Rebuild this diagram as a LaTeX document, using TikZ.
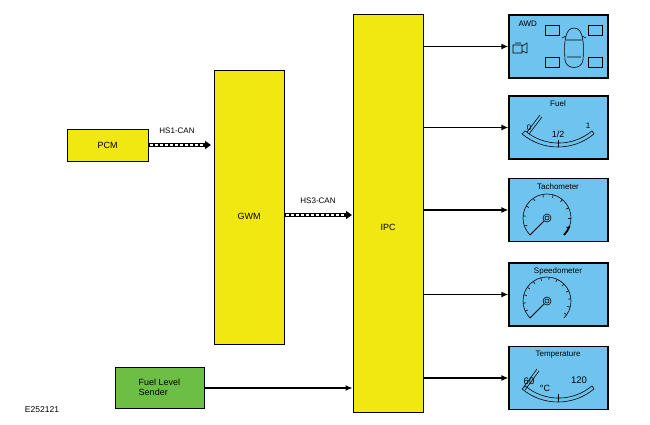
\documentclass[tikz,border=0pt]{standalone}
\usepackage{fontspec}
\setmainfont{Liberation Sans}
\usetikzlibrary{arrows.meta}
\definecolor{yel}{HTML}{F2E811}
\definecolor{grn}{HTML}{6DBE45}
\definecolor{sky}{HTML}{6EC4EE}
\begin{document}
\begin{tikzpicture}[x=1pt,y=-1pt,
  blk/.style={draw=black,line width=0.9pt,fill=yel,font=\fontsize{9}{10}\selectfont},
  ind/.style={draw=black,line width=1.2pt,fill=sky},
  lab/.style={font=\fontsize{8}{9}\selectfont},
  arr/.style={line width=1.6pt,-{Latex[length=7pt,width=6pt]}},
  can/.style={line width=4.5pt,-{Triangle[length=6pt,width=8pt]}},
  gl/.style={line width=0.6pt}]
\useasboundingbox (0,0) rectangle (650,425);
\node[blk,minimum width=81,minimum height=32] (pcm) at (107.5,145) {PCM};
\node[blk,minimum width=70,minimum height=274] (gwm) at (249,207) {};
\node[font=\fontsize{9}{10}\selectfont] at (249,216) {GWM};
\node[blk,minimum width=70,minimum height=398] (ipc) at (388,213) {};
\node[font=\fontsize{9}{10}\selectfont] at (388,227) {IPC};
\node[blk,fill=grn,minimum width=89,minimum height=41,align=left] (fls) at (159.5,387.5) {Fuel Level\\Sender};
\node[font=\fontsize{8.5}{9}\selectfont] at (42,410) {E252121};
% CAN
\coordinate (c1) at (211,145); \coordinate (c2) at (352,215);
\draw[can] (pcm.east) -- (c1);
\draw[white,line width=1.5pt,dash pattern=on 3pt off 2pt] ([xshift=2pt]pcm.east) -- ([xshift=-6pt]c1);
\node[lab] at (177,131) {HS1-CAN};
\draw[can] (gwm.east|-c2) -- (c2);
\draw[white,line width=1.5pt,dash pattern=on 3pt off 2pt] ([xshift=2pt]gwm.east|-c2) -- ([xshift=-6pt]c2);
\node[lab] at (318,201) {HS3-CAN};
\draw[arr] (fls.east|-0,388) -- (ipc.west|-0,388);
% indicators
\foreach \n/\y in {awd/46.5,fu/127.5,ta/210,sp/294.5,te/378}{
  \node[ind,minimum width=99,minimum height=63] (\n) at (558.5,\y) {};
  \draw[arr] (ipc.east|-\n) -- (\n.west);
}
% AWD
\node[lab,anchor=west] at (515,24) {AWD};
\foreach \p in {(552,30),(595,30),(552,62),(595,62)} \draw[gl,fill=sky] \p ++(-7,-5) rectangle ++(14,10);
\draw[gl] (574,28) .. controls (564,28) and (564,45) .. (565,60) .. controls (566,70) and (582,70) .. (583,60) .. controls (584,45) and (584,28) .. (574,28);
\draw[gl] (566,40) -- (582,40) (567,57) -- (581,57) (562,38) -- (566,36) (582,36) -- (586,38);
\draw[gl] (513,45) rectangle (522,53) (515,43) -- (521,43) (522,46) -- (527,43) -- (527,53) -- (522,51);
% Fuel
\node[lab] at (558,104) {Fuel};
\draw[gl] (558,91) ++(130:56) arc (130:50:56) -- ++(-2,-3) arc (50:130:52) -- cycle;
\draw[line width=1pt] (558,147) -- ++(0,-7);
\draw[gl] (527,132) -- (540,115) (529,134) -- (542,117);
\node[lab] at (529,128) {0};
\node[font=\fontsize{9}{10}\selectfont] at (558,134) {1/2};
\node[lab] at (588,126) {1};
% Tach
\node[lab] at (558,187) {Tachometer};
\draw[gl] (547,218) ++(135:24) arc (135:405:24);
\foreach \a in {135,160,...,405} \draw[gl] (547,218) ++(\a:24) -- ++(\a:-3);
\draw[line width=1.8pt] (547,218) ++(20:24) arc (20:45:24);
\draw[line width=1pt] (530,235) -- (547,218);
\draw[gl,fill=sky] (547,218) circle (4);
\draw[gl] (547,218) circle (2);
% Speedo
\node[lab] at (558,271) {Speedometer};
\draw[gl] (547,301) ++(135:24) arc (135:405:24);
\foreach \a in {135,155,...,405} \draw[gl] (547,301) ++(\a:24) -- ++(\a:-3);
\draw[line width=1pt] (530,318) -- (547,301);
\draw[gl,fill=sky] (547,301) circle (4);
\draw[gl] (547,301) circle (2);
% Temp
\node[lab] at (558,355) {Temperature};
\draw[gl] (558,346) ++(130:56) arc (130:50:56) -- ++(-2,-3) arc (50:130:52) -- cycle;
\draw[line width=1pt] (558,402) -- ++(0,-8);
\draw[gl] (523,388) -- (537,369) (525,390) -- (539,371);
\node[font=\fontsize{9.5}{10}\selectfont] at (529,381) {60};
\node[font=\fontsize{9}{10}\selectfont] at (545,388) {°C};
\node[font=\fontsize{9.5}{10}\selectfont] at (579,380) {120};
\end{tikzpicture}
\end{document}
